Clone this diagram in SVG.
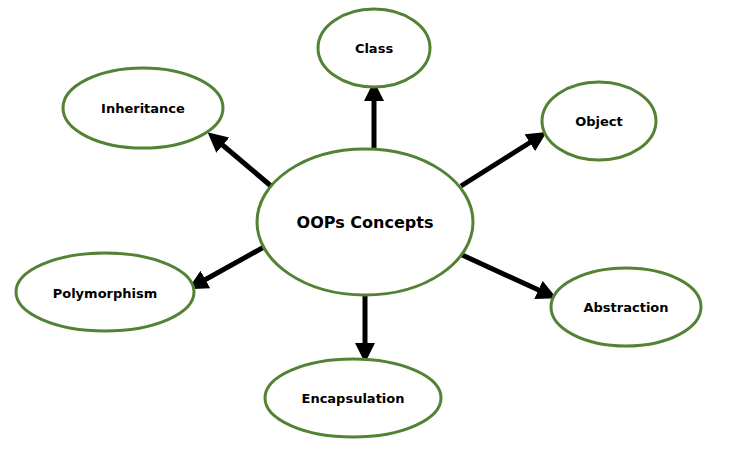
<svg xmlns="http://www.w3.org/2000/svg" width="732" height="474" viewBox="0 0 732 474">
<style>
.n{fill:#fff;stroke:#548235;stroke-width:3}
.t{font-family:"DejaVu Sans",Verdana,sans-serif;font-weight:bold;font-size:13px;text-anchor:middle;dominant-baseline:central;fill:#000}
.c line{stroke:#000;stroke-width:5}
</style>
<defs><marker id="a" markerWidth="4" markerHeight="4" refX="1" refY="2" orient="auto"><path d="M0,0L4,2L0,4z" fill="#000"/></marker></defs>
<rect width="732" height="474" fill="#fff"/>
<g class="c">
<line x1="374" y1="148" x2="374" y2="96" marker-end="url(#a)"/>
<line x1="271" y1="186" x2="219" y2="142" marker-end="url(#a)"/>
<line x1="461" y1="186" x2="534" y2="140" marker-end="url(#a)"/>
<line x1="264" y1="247" x2="201" y2="282" marker-end="url(#a)"/>
<line x1="460" y1="254" x2="543" y2="292" marker-end="url(#a)"/>
<line x1="365" y1="296" x2="365" y2="348" marker-end="url(#a)"/>
</g>
<g id="center"><ellipse class="n" cx="365" cy="222" rx="108" ry="73"/><text class="t" x="365" y="222" style="font-size:16px">OOPs Concepts</text></g>
<g id="class"><ellipse class="n" cx="374" cy="48" rx="56" ry="39"/><text class="t" x="374" y="48">Class</text></g>
<g id="inheritance"><ellipse class="n" cx="143" cy="108" rx="80" ry="40"/><text class="t" x="143" y="108">Inheritance</text></g>
<g id="object"><ellipse class="n" cx="599" cy="121" rx="57" ry="39"/><text class="t" x="599" y="121">Object</text></g>
<g id="polymorphism"><ellipse class="n" cx="105" cy="292" rx="89" ry="39"/><text class="t" x="105" y="293">Polymorphism</text></g>
<g id="abstraction"><ellipse class="n" cx="626" cy="307" rx="75" ry="39"/><text class="t" x="626" y="307">Abstraction</text></g>
<g id="encapsulation"><ellipse class="n" cx="353" cy="398" rx="88" ry="39"/><text class="t" x="353" y="398">Encapsulation</text></g>
</svg>
